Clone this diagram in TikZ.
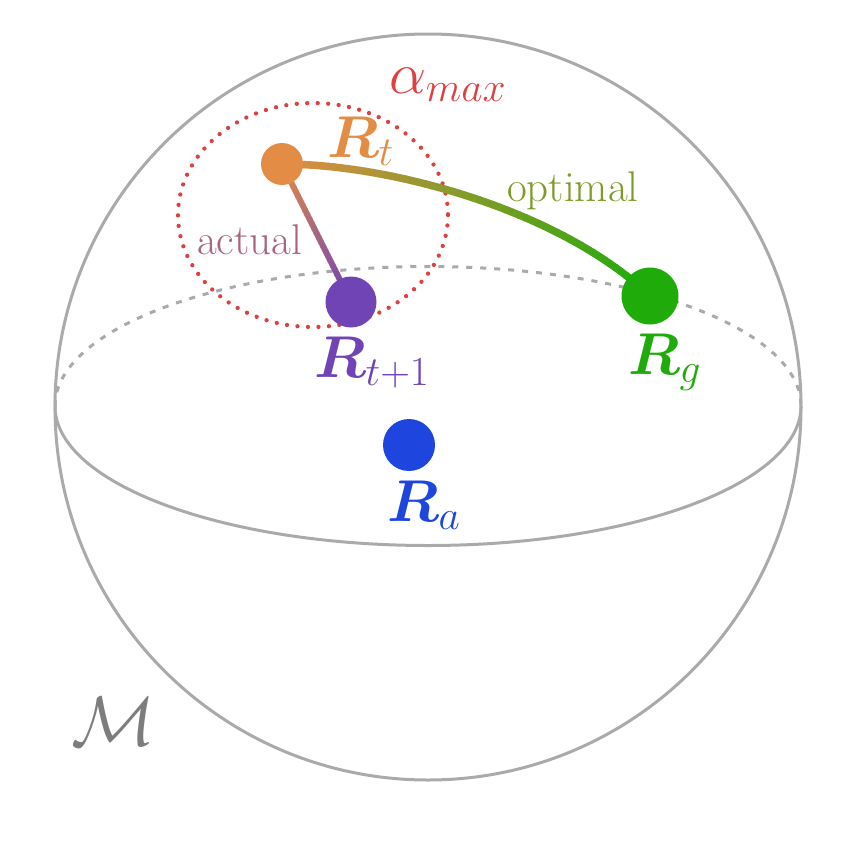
\RequirePackage{fix-cm}
\documentclass[tikz,border=0pt]{standalone}
\usepackage{amsmath,bm}
\usepackage{fontspec}
\usetikzlibrary{backgrounds}
\definecolor{cOrange}{RGB}{226,140,70}
\definecolor{cPurple}{RGB}{113,68,181}
\definecolor{cGreen}{RGB}{31,171,10}
\definecolor{cBlue}{RGB}{30,70,222}
\definecolor{cRed}{RGB}{222,64,64}
\definecolor{cGray}{RGB}{170,170,170}
\definecolor{cMauve}{RGB}{170,100,130}
\definecolor{cOlive}{RGB}{125,155,40}
\definecolor{cDark}{RGB}{125,125,125}
\begin{document}
\begin{tikzpicture}[x=1pt,y=-1pt,
  dot/.style={circle,inner sep=0pt,fill=#1},
  lbl/.style={inner sep=0pt,anchor=base west,text=#1},
  big/.style={font=\fontsize{59}{61}\selectfont},
  txt/.style={font=\fontsize{43}{45}\selectfont},
  shell/.style={draw=cGray,line width=3pt}]
\useasboundingbox (0,0) rectangle (856,868);
% points
\node[dot=cOrange,minimum size=42pt] (Rt) at (282,164) {};
\node[dot=cPurple,minimum size=51pt] (Rt1) at (351,302) {};
\node[dot=cGreen,minimum size=57pt] (Rg) at (650,296) {};
\node[dot=cBlue,minimum size=52pt] (Ra) at (409,445) {};
% labels
\node[lbl=cOrange,big] (lRt) at (327,157) {$\bm{R}_t$};
\node[lbl=cPurple,big] (lRt1) at (314,377) {$\bm{R}_{t+1}$};
\node[lbl=cGreen,big] (lRg) at (628,374) {$\bm{R}_g$};
\node[lbl=cBlue,big] (lRa) at (387,521) {$\bm{R}_a$};
\node[lbl=cRed,big] (lal) at (389,93) {$\alpha_{max}$};
\node[lbl=cMauve,txt] (lact) at (197,254) {actual};
\node[lbl=cOlive,txt] (lopt) at (507,201) {optimal};
\node[lbl=cDark,font=\fontsize{70}{72}\selectfont] (lM) at (71,745) {$\mathcal{M}$};
\begin{scope}[on background layer]
  % manifold
  \draw[shell] (428,407) circle[radius=373];
  \draw[shell,dash pattern=on 6pt off 8pt] (55,406) arc[start angle=180,end angle=360,x radius=373,y radius=139.5];
  \draw[shell] (55,406) arc[start angle=180,end angle=0,x radius=373,y radius=139.5];
  % alpha max region
  \draw[cRed,line width=4.3pt,line cap=round,dash pattern=on 0pt off 10.5pt] (313,215) ellipse[x radius=135,y radius=112];
  % optimal geodesic
  \foreach \i in {0,...,59}{
    \pgfmathsetmacro\pa{\i/60}
    \pgfmathsetmacro\pb{(\i+1)/60}
    \pgfmathsetmacro\pc{100*\i/59}
    \path (Rt.center) .. controls (390,164) and (560,210) .. (Rg.center)
      coordinate[pos=\pa] (s) coordinate[pos=\pb] (e);
    \draw[line width=7.5pt,line cap=round,color=cGreen!\pc!cOrange] (s) -- (e);
  }
  % actual step
  \foreach \i in {0,...,29}{
    \pgfmathsetmacro\pa{\i/30}
    \pgfmathsetmacro\pb{(\i+1)/30}
    \pgfmathsetmacro\pc{100*\i/29}
    \path (Rt.center) -- (Rt1.center)
      coordinate[pos=\pa] (s) coordinate[pos=\pb] (e);
    \draw[line width=6pt,line cap=round,color=cPurple!\pc!cOrange] (s) -- (e);
  }
\end{scope}
\end{tikzpicture}
\end{document}
